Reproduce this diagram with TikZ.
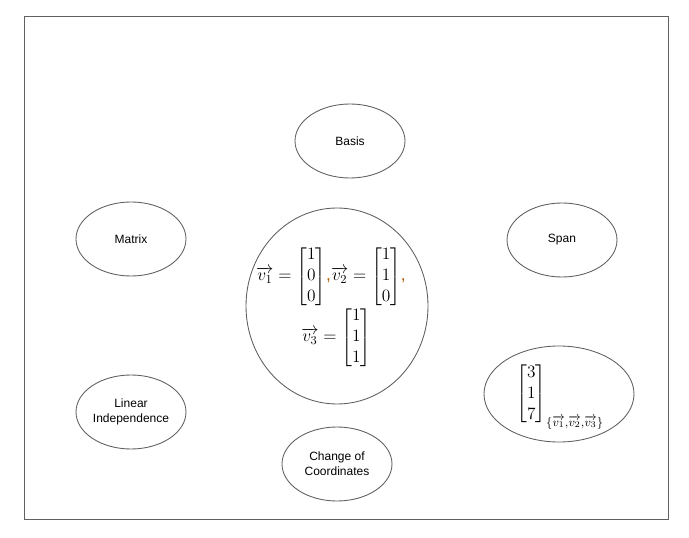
\documentclass[tikz,border=0pt]{standalone}
\usepackage{fix-cm}
\usetikzlibrary{shapes.geometric}
\usepackage{amsmath}
\usepackage{fontspec}
\setmainfont{Liberation Sans}
\definecolor{edge}{HTML}{606060}
\definecolor{commac}{HTML}{B06010}
\begin{document}
\begin{tikzpicture}[x=0.75pt,y=-0.75pt,
  bubble/.style={draw=edge,line width=0.65pt,ellipse,inner sep=0pt,font=\fontsize{9}{11}\selectfont,align=center,
    minimum width=82.5pt,minimum height=55.5pt},
  mathtext/.style={font=\fontsize{13}{15.6}\selectfont,align=center,inner sep=0pt},
]
\useasboundingbox (0,0) rectangle (689,538);
\draw[draw=edge,line width=0.75pt] (24,17) rectangle (668,519);
\node[bubble] (basis) at (350,141) {Basis};
\node[bubble] (matrix) at (131,239) {Matrix};
\node[bubble] (span) at (562,240) {Span};
\node[bubble] (li) at (131,412) {Linear\\Independence};
\node[bubble] (coc) at (337,464) {Change of\\Coordinates};
\node[bubble,minimum width=136.5pt,minimum height=147pt] (center) at (337,306) {};
\node[mathtext] (vecs) at (331,307)
 {$\overrightarrow{v_1}=\begin{bmatrix}1\\0\\0\end{bmatrix}$\textcolor{commac}{,}$\overrightarrow{v_2}=\begin{bmatrix}1\\1\\0\end{bmatrix}$\textcolor{commac}{,}\\[-2pt]
  \hspace*{8pt}$\overrightarrow{v_3}=\begin{bmatrix}1\\1\\1\end{bmatrix}$};
\node[bubble,minimum width=112.5pt,minimum height=72pt] (coordb) at (559,394) {};
\node[mathtext] (coord) at (560,396)
 {$\begin{bmatrix}3\\1\\7\end{bmatrix}_{\{\overrightarrow{v_1},\overrightarrow{v_2},\overrightarrow{v_3}\}}$};
\end{tikzpicture}
\end{document}
